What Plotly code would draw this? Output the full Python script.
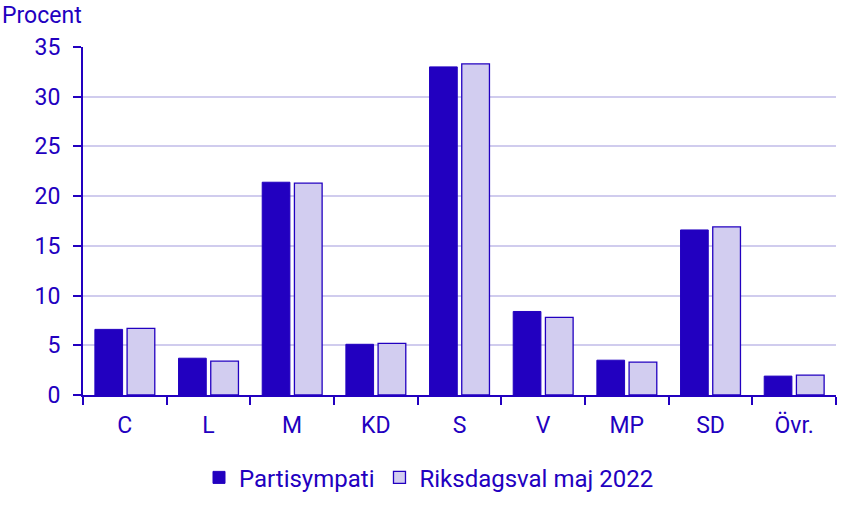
import plotly.graph_objects as go

categories = ["C", "L", "M", "KD", "S", "V", "MP", "SD", "Övr."]
partisympati = [6.6, 3.7, 21.4, 5.1, 33.0, 8.4, 3.5, 16.6, 1.9]
riksdagsval = [6.7, 3.4, 21.3, 5.2, 33.3, 7.8, 3.3, 16.9, 2.0]
y_ticks = [0, 5, 10, 15, 20, 25, 30, 35]

DARK = "#2200c0"
LIGHT = "#d2cdf0"
GRID = "#d0ccee"
FONT = "Roboto"
FS = 23

fig = go.Figure()
fig.add_trace(go.Bar(
    x=categories, y=partisympati, name="Partisympati",
    marker=dict(color=DARK, line=dict(color=DARK, width=1)),
))
fig.add_trace(go.Bar(
    x=categories, y=riksdagsval, name="Riksdagsval maj 2022",
    marker=dict(color=LIGHT, line=dict(color=DARK, width=1.3)),
))

fig.update_layout(
    width=858, height=511,
    margin=dict(l=83, r=22, t=47, b=116),
    paper_bgcolor="white", plot_bgcolor="white",
    font=dict(family=FONT, size=FS, color=DARK),
    barmode="group", bargap=0.23, bargroupgap=0.14,
    showlegend=True,
    legend=dict(
        orientation="h", xref="container", x=0.5, xanchor="center",
        yref="container", y=0.065, yanchor="middle",
        font=dict(family=FONT, size=24, color=DARK),
        itemwidth=30, traceorder="normal",
    ),
    xaxis=dict(
        showline=True, linecolor=DARK, linewidth=2,
        ticks="outside", tickson="boundaries", ticklen=8, tickcolor=DARK, tickwidth=2,
        ticklabelstandoff=8,
        showgrid=False, tickfont=dict(size=FS, color=DARK),
    ),
    yaxis=dict(
        range=[0, 35], tickvals=y_ticks,
        showline=True, linecolor=DARK, linewidth=2,
        ticks="outside", ticklen=8, tickcolor=DARK, tickwidth=2,
        ticklabelstandoff=8,
        showgrid=True, gridcolor=GRID, gridwidth=2,
        zeroline=False, tickfont=dict(size=FS, color=DARK),
    ),
    annotations=[dict(
        text="Procent", xref="paper", yref="paper", x=0, y=1,
        xanchor="left", yanchor="bottom", xshift=-83, yshift=16,
        showarrow=False, font=dict(family=FONT, size=FS, color=DARK),
    )],
)

fig.write_html("out.html", config={"displayModeBar": False},
               post_script="document.body.style.margin='0';")
